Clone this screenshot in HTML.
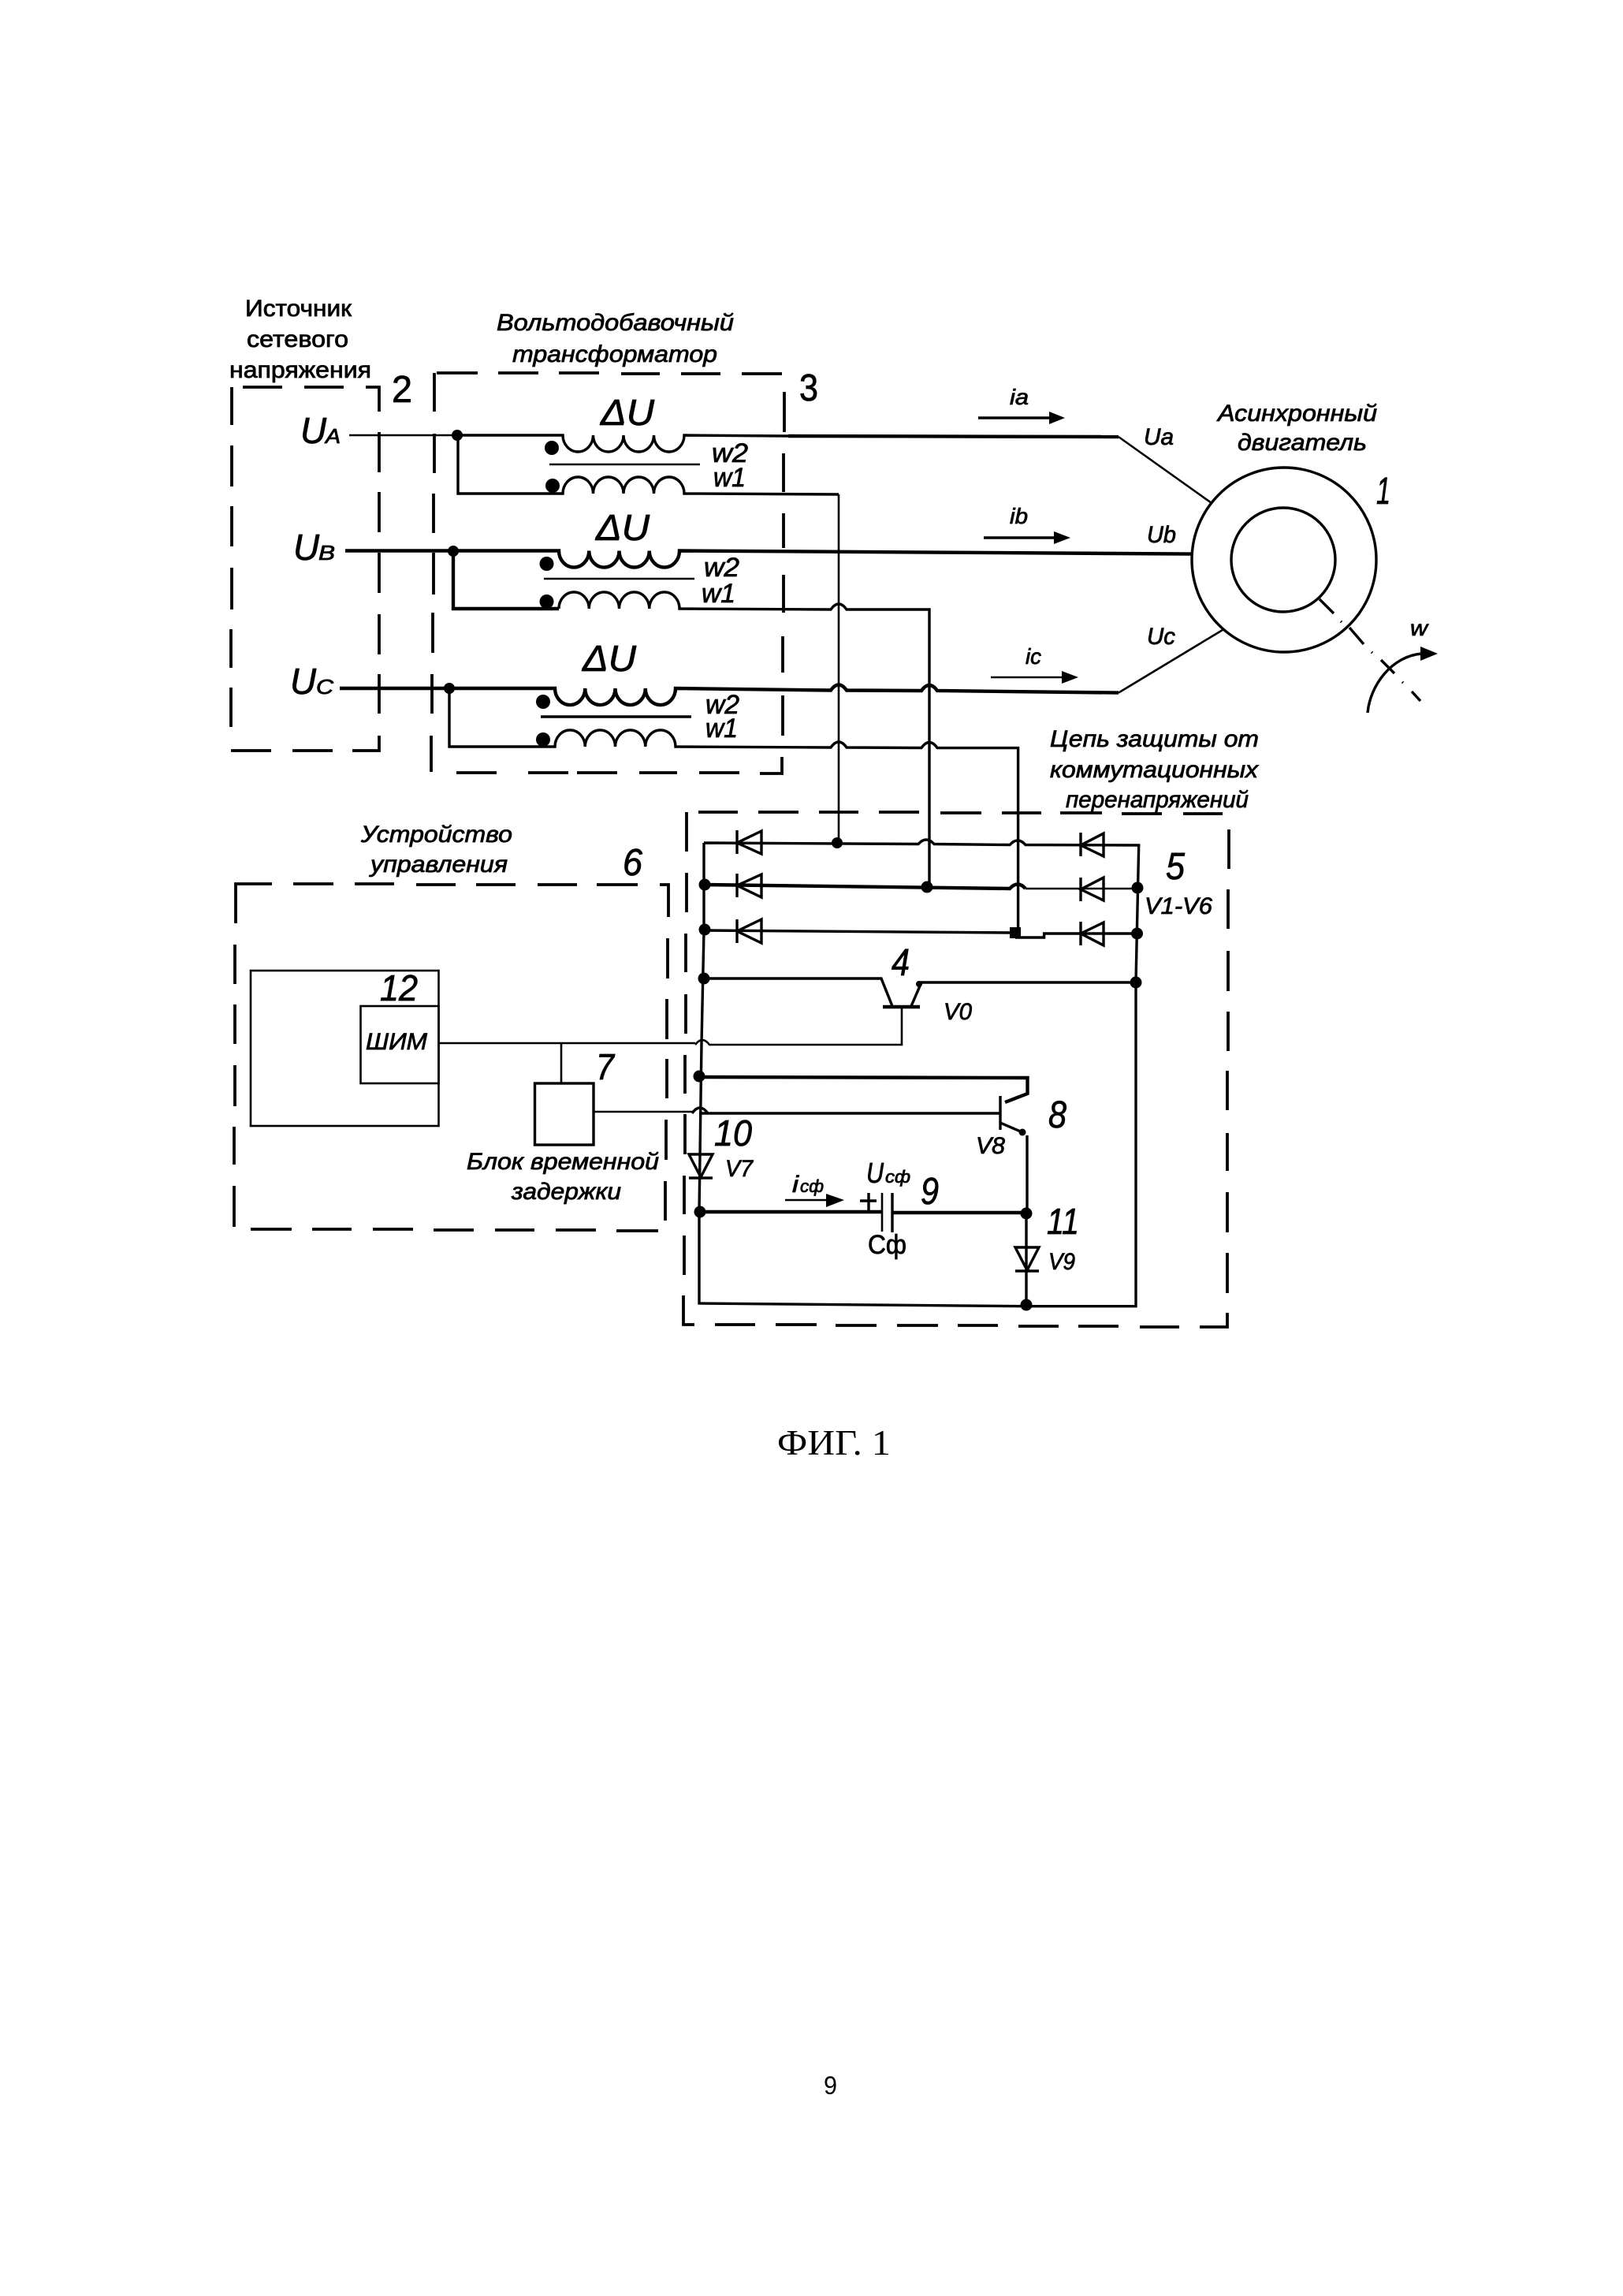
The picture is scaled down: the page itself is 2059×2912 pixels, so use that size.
<!DOCTYPE html>
<html lang="ru"><head><meta charset="utf-8"><title>ФИГ. 1</title>
<style>
html,body{margin:0;padding:0;background:#fff}
svg{display:block}
text{font-family:"Liberation Sans",sans-serif;fill:#000;stroke:#000;stroke-width:.8}
.i{font-style:italic}
.w{fill:none;stroke:#000;stroke-width:3.4;stroke-linejoin:miter;stroke-linecap:butt}
.t{fill:none;stroke:#000;stroke-width:2.6}
.b{fill:none;stroke:#000;stroke-width:4.4}
.d{fill:none;stroke:#000;stroke-width:3.8}
.dot{fill:#000}
</style></head><body>
<svg xmlns="http://www.w3.org/2000/svg" width="2059" height="2912" viewBox="0 0 2059 2912">
<rect width="2059" height="2912" fill="#fff"/>

<!-- Box 2 -->
<path class="d" d="M308 491H358M386 491H436M464 491H481V522M481 548V599M481 624V675M481 701V752M481 779V830M481 855V905M481 933V952H447M422 952H371M344 952H293M294 491V539M294 565V617M294 642V693M294 720V773M293 798V847M293 872V922"/>
<!-- Box 3 -->
<path class="d" d="M554 473H606M632 473H683M709 473H760M788 474H837M864 474H914M941 474H992M551 473V522M551 550V600M550 626V676M550 701V754M549 777V828M548 855V905M547 933V979M579 980H630M670 980H721M732 980H783M811 980H859M887 980H938M964 981H992V960M993 933V882M993 853V807M994 777V729M994 695V651M994 624V575M995 548V497"/>
<!-- Box 5 -->
<path class="d" d="M886 1030H936M962 1030H1013M1039 1030H1089M1115 1030H1166M1193 1031H1245M1271 1031H1321M1345 1031H1398M1423 1032H1474M1501 1032H1551M871 1030V1080M871 1107V1157M870 1184V1233M870 1261V1311M869 1338V1387M869 1413V1464M868 1491V1540M868 1567V1617M867 1643V1680H881M907 1680H958M984 1680H1036M1060 1681H1112M1138 1681H1190M1215 1681H1266M1292 1682H1343M1368 1682H1419M1446 1683H1496M1522 1683H1557V1665M1557 1640V1589M1557 1563V1512M1557 1485V1437M1557 1408V1358M1558 1333V1283M1558 1257V1206M1558 1178V1128M1559 1102V1052"/>
<!-- Box 6 -->
<path class="d" d="M345 1121H299V1171M372 1121H423M450 1121H500M528 1122H578M604 1122H654M682 1122H732M757 1122H809M837 1122H848V1163M847 1190V1241M846 1267V1318M846 1343V1393M845 1420V1471M844 1498V1548M298 1198V1248M298 1274V1324M298 1351V1403M297 1429V1477M297 1504V1556M318 1559H370M396 1559H446M473 1559H524M550 1560H601M628 1560H678M705 1560H756M782 1561H835"/>

<!-- Transformer A -->
<path class="t" d="M443 552H580"/>
<path class="w" d="M580 552H714a19.25 21 0 0 0 38.5 0a19.25 21 0 0 0 38.5 0a19.25 21 0 0 0 38.5 0a19.25 21 0 0 0 38.5 0L1000 553"/>
<path class="b" d="M1000 553L1419 554"/>
<path class="t" d="M1419 554L1537 638"/>
<path class="w" d="M581 552V626H714a19.25 21 0 0 1 38.5 0a19.25 21 0 0 1 38.5 0a19.25 21 0 0 1 38.5 0a19.25 21 0 0 1 38.5 0L1064 627"/>
<path class="t" d="M697 589H888"/>
<circle class="dot" cx="580" cy="552" r="7"/><circle class="dot" cx="700" cy="568" r="9"/><circle class="dot" cx="701" cy="616" r="9"/>

<!-- Transformer B -->
<path class="b" d="M438 698.5H709a19.1 21 0 0 0 38.25 0a19.1 21 0 0 0 38.25 0a19.1 21 0 0 0 38.25 0a19.1 21 0 0 0 38.25 0L1511 702.6"/>
<path class="b" d="M575 699V772H709"/>
<path class="w" d="M709 772a19.1 21 0 0 1 38.25 0a19.1 21 0 0 1 38.25 0a19.1 21 0 0 1 38.25 0a19.1 21 0 0 1 38.25 0L1054 773q10 -14 20 0L1179 773V1125"/>
<path class="t" d="M690 734H881"/>
<circle class="dot" cx="575" cy="699" r="7"/><circle class="dot" cx="693.500" cy="715" r="9"/><circle class="dot" cx="693.500" cy="763" r="9"/>

<!-- Transformer C -->
<path class="b" d="M431 873H704a19.1 21 0 0 0 38.25 0a19.1 21 0 0 0 38.25 0a19.1 21 0 0 0 38.25 0a19.1 21 0 0 0 38.25 0L1054 875.500q10 -14 20 0L1169 876q10 -14 20 0L1419 878.600"/>
<path class="t" d="M1419 878.600L1551 799"/>
<path class="w" d="M570 873V947H704a19.1 21 0 0 1 38.25 0a19.1 21 0 0 1 38.25 0a19.1 21 0 0 1 38.25 0a19.1 21 0 0 1 38.25 0L1054 948q10 -14 20 0L1169 948.500q10 -14 20 0L1291.600 948.600V1183"/>
<path class="w" d="M686 909H877"/>
<circle class="dot" cx="570" cy="873" r="7"/><circle class="dot" cx="689" cy="890" r="9"/><circle class="dot" cx="689" cy="938" r="9"/>

<!-- Motor -->
<circle class="w" cx="1629" cy="710" r="117"/>
<circle class="w" cx="1628" cy="710" r="66"/>
<path class="w" d="M1674 760L1692 778M1701 788l1 1M1712 796L1730 817M1740 827l1 1M1752 837L1769 854M1779 865l1 1M1791 877L1802 889"/>
<path class="w" d="M1735 904C1738 870 1765 832 1804 829"/>
<polygon class="dot" points="1824,829 1802,820 1802,838"/>

<!-- Current arrows -->
<path class="w" d="M1241 530H1335"/><polygon class="dot" points="1351,530 1331,522 1331,538"/>
<path class="w" d="M1248 682H1342"/><polygon class="dot" points="1358,682 1337,674 1337,690"/>
<path class="t" d="M1257 859H1352"/><polygon class="dot" points="1368,859 1347,851 1347,867"/>

<!-- Rectifier verticals -->
<path class="t" d="M1064 627V1069"/>

<!-- Rows -->
<path class="w" d="M893 1069L1165 1070.500q10 -11 20 0L1281 1071.500q10 -11 20 0L1444.700 1072L1441 1246V1656.700H1302L887 1653V1537L890 1323L893 1181V1069"/>
<path class="b" d="M893 1122L1281 1127q10 -11 20 0"/>
<path class="t" d="M1301 1127H1443"/>
<path class="w" d="M893 1180L1288 1183"/>
<path class="w" d="M1288 1189H1324.600V1184H1443"/>
<rect x="1281" y="1176" width="14" height="14" fill="#000"/>
<circle class="dot" cx="1062" cy="1069" r="7"/><circle class="dot" cx="1176" cy="1125" r="7.500"/>
<circle class="dot" cx="894" cy="1122" r="7.500"/><circle class="dot" cx="894" cy="1179" r="7.500"/><circle class="dot" cx="893" cy="1241" r="7.500"/>
<circle class="dot" cx="1443" cy="1126" r="7.500"/><circle class="dot" cx="1442.500" cy="1184" r="7.500"/><circle class="dot" cx="1441" cy="1246" r="7.500"/>

<!-- Diodes -->
<g class="w">
<path class="w" d="M935 1053V1083M966 1054L935 1069L966 1083Z"/>
<path class="w" d="M935 1108V1138M966 1109L935 1123L966 1138Z"/>
<path class="w" d="M935 1166V1196M966 1166L935 1181L966 1196Z"/>
<path class="w" d="M1371 1056V1086M1400 1057L1371 1072L1400 1086Z"/>
<path class="w" d="M1371 1113V1143M1400 1113L1371 1128L1400 1142Z"/>
<path class="w" d="M1371 1169V1199M1400 1170L1371 1184L1400 1199Z"/>
</g>
<!-- V7, V9 -->
<path class="w" d="M874 1464H904L889 1493ZM874 1494H904"/>
<path class="w" d="M1288 1582H1318L1303 1611ZM1288 1612H1318"/>

<!-- V0 -->
<path class="w" d="M893 1241H1118L1132 1276M1156 1276L1169 1246H1441"/>
<path class="b" d="M1120 1277H1167"/>
<path class="t" d="M1144 1277V1325H900q-9 -12 -18 0"/>
<circle class="dot" cx="1166" cy="1248" r="4"/>
<path class="t" d="M882 1323H557"/>

<!-- V8 -->
<path class="b" d="M887 1366L1303.500 1367V1387L1275 1398"/>
<path class="w" d="M1269 1390V1433M1269 1424L1297 1436M1303 1440V1538M887 1412H1269"/>
<circle class="dot" cx="1297" cy="1436" r="4.500"/>
<circle class="dot" cx="887" cy="1365" r="7.500"/>
<path class="w" d="M878 1412q10 -14 20 0"/>

<!-- Capacitor -->
<path class="b" d="M888 1537H1119M1132 1538H1302"/>
<path class="t" d="M1119 1513V1562"/>
<path class="w" d="M1132 1513V1563"/>
<path class="w" d="M1091 1523H1112M1102 1513V1535"/>
<path class="t" d="M996 1522H1052"/><polygon class="dot" points="1071,1522 1048,1514 1048,1531"/>
<circle class="dot" cx="888" cy="1537" r="7.500"/><circle class="dot" cx="1302" cy="1539" r="7.500"/>
<path class="w" d="M1302 1539V1655"/>
<circle class="dot" cx="1302" cy="1655" r="7.500"/>

<!-- Blocks -->
<rect class="t" x="318" y="1231" width="238.500" height="197"/>
<rect class="t" x="457.500" y="1276" width="99" height="98"/>
<path class="t" d="M712 1323V1374"/>
<rect class="w" x="678.500" y="1374" width="74.500" height="78"/>
<path class="t" d="M753 1410H880"/>

<!-- Labels, upright -->
<text x="311" y="401" font-size="30" textLength="135" lengthAdjust="spacingAndGlyphs">Источник</text>
<text x="313" y="440" font-size="30" textLength="129" lengthAdjust="spacingAndGlyphs">сетевого</text>
<text x="291" y="479" font-size="30" textLength="180" lengthAdjust="spacingAndGlyphs">напряжения</text>
<text x="497" y="510" font-size="48" textLength="26" lengthAdjust="spacingAndGlyphs">2</text>
<text x="1014" y="508" font-size="48" textLength="24" lengthAdjust="spacingAndGlyphs">3</text>
<text x="1101" y="1590" font-size="34" textLength="49" lengthAdjust="spacingAndGlyphs">Сф</text>

<!-- Labels, italic -->
<g class="i">
<text class="i" x="630" y="419" font-size="30" textLength="301" lengthAdjust="spacingAndGlyphs">Вольтодобавочный</text>
<text class="i" x="650" y="459" font-size="30" textLength="260" lengthAdjust="spacingAndGlyphs">трансформатор</text>
<text class="i" x="762" y="539" font-size="46" textLength="68" lengthAdjust="spacingAndGlyphs">ΔU</text>
<text class="i" x="756" y="685" font-size="46" textLength="68" lengthAdjust="spacingAndGlyphs">ΔU</text>
<text class="i" x="739" y="851" font-size="46" textLength="68" lengthAdjust="spacingAndGlyphs">ΔU</text>
<text class="i" x="381" y="562" font-size="46" textLength="33" lengthAdjust="spacingAndGlyphs">U</text>
<text class="i" x="413" y="562" font-size="26" textLength="19" lengthAdjust="spacingAndGlyphs">A</text>
<text class="i" x="372" y="710" font-size="46" textLength="33" lengthAdjust="spacingAndGlyphs">U</text>
<text class="i" x="404" y="710" font-size="26" textLength="21" lengthAdjust="spacingAndGlyphs">B</text>
<text class="i" x="368" y="880" font-size="46" textLength="33" lengthAdjust="spacingAndGlyphs">U</text>
<text class="i" x="401" y="880" font-size="26" textLength="22" lengthAdjust="spacingAndGlyphs">C</text>
<text class="i" x="903" y="586" font-size="34" textLength="46" lengthAdjust="spacingAndGlyphs">w2</text>
<text class="i" x="905" y="617" font-size="34" textLength="41" lengthAdjust="spacingAndGlyphs">w1</text>
<text class="i" x="893" y="731" font-size="34" textLength="45" lengthAdjust="spacingAndGlyphs">w2</text>
<text class="i" x="890" y="764" font-size="34" textLength="43" lengthAdjust="spacingAndGlyphs">w1</text>
<text class="i" x="895" y="905" font-size="34" textLength="43" lengthAdjust="spacingAndGlyphs">w2</text>
<text class="i" x="895" y="935" font-size="34" textLength="41" lengthAdjust="spacingAndGlyphs">w1</text>
<text class="i" x="1281" y="513" font-size="28" textLength="24" lengthAdjust="spacingAndGlyphs">ia</text>
<text class="i" x="1281" y="664" font-size="28" textLength="23" lengthAdjust="spacingAndGlyphs">ib</text>
<text class="i" x="1301" y="842" font-size="28" textLength="20" lengthAdjust="spacingAndGlyphs">ic</text>
<text class="i" x="1451" y="564" font-size="30" textLength="38" lengthAdjust="spacingAndGlyphs">Ua</text>
<text class="i" x="1455" y="688" font-size="30" textLength="37" lengthAdjust="spacingAndGlyphs">Ub</text>
<text class="i" x="1455" y="817" font-size="30" textLength="36" lengthAdjust="spacingAndGlyphs">Uc</text>
<text class="i" x="1545" y="534" font-size="30" textLength="202" lengthAdjust="spacingAndGlyphs">Асинхронный</text>
<text class="i" x="1570" y="571" font-size="30" textLength="164" lengthAdjust="spacingAndGlyphs">двигатель</text>
<text class="i" x="1746" y="639" font-size="48" textLength="18" lengthAdjust="spacingAndGlyphs">1</text>
<text class="i" x="1789" y="806" font-size="28" textLength="22" lengthAdjust="spacingAndGlyphs">w</text>
<text class="i" x="1332" y="947" font-size="30" textLength="265" lengthAdjust="spacingAndGlyphs">Цепь защиты от</text>
<text class="i" x="1332" y="986" font-size="30" textLength="264" lengthAdjust="spacingAndGlyphs">коммутационных</text>
<text class="i" x="1352" y="1024" font-size="30" textLength="232" lengthAdjust="spacingAndGlyphs">перенапряжений</text>
<text class="i" x="458" y="1068" font-size="30" textLength="192" lengthAdjust="spacingAndGlyphs">Устройство</text>
<text class="i" x="470" y="1106" font-size="30" textLength="174" lengthAdjust="spacingAndGlyphs">управления</text>
<text class="i" x="790" y="1110" font-size="48" textLength="25" lengthAdjust="spacingAndGlyphs">6</text>
<text class="i" x="482" y="1269" font-size="46" textLength="48" lengthAdjust="spacingAndGlyphs">12</text>
<text class="i" x="464" y="1331" font-size="30" textLength="78" lengthAdjust="spacingAndGlyphs">ШИМ</text>
<text class="i" x="756" y="1369" font-size="46" textLength="23" lengthAdjust="spacingAndGlyphs">7</text>
<text class="i" x="592" y="1483" font-size="30" textLength="244" lengthAdjust="spacingAndGlyphs">Блок временной</text>
<text class="i" x="649" y="1521" font-size="30" textLength="139" lengthAdjust="spacingAndGlyphs">задержки</text>
<text class="i" x="906" y="1453" font-size="46" textLength="48" lengthAdjust="spacingAndGlyphs">10</text>
<text class="i" x="920" y="1492" font-size="30" textLength="35" lengthAdjust="spacingAndGlyphs">V7</text>
<text class="i" x="1131" y="1237" font-size="48" textLength="23" lengthAdjust="spacingAndGlyphs">4</text>
<text class="i" x="1197" y="1293" font-size="30" textLength="36" lengthAdjust="spacingAndGlyphs">V0</text>
<text class="i" x="1479" y="1115" font-size="48" textLength="24" lengthAdjust="spacingAndGlyphs">5</text>
<text class="i" x="1452" y="1159" font-size="30" textLength="86" lengthAdjust="spacingAndGlyphs">V1-V6</text>
<text class="i" x="1330" y="1430" font-size="48" textLength="23" lengthAdjust="spacingAndGlyphs">8</text>
<text class="i" x="1238" y="1463" font-size="30" textLength="37" lengthAdjust="spacingAndGlyphs">V8</text>
<text class="i" x="1005" y="1512" font-size="30" textLength="8" lengthAdjust="spacingAndGlyphs">i</text>
<text class="i" x="1015" y="1512" font-size="22" textLength="30" lengthAdjust="spacingAndGlyphs">сф</text>
<text class="i" x="1099" y="1500" font-size="36" textLength="22" lengthAdjust="spacingAndGlyphs">U</text>
<text class="i" x="1123" y="1500" font-size="22" textLength="32" lengthAdjust="spacingAndGlyphs">сф</text>
<text class="i" x="1168" y="1527" font-size="48" textLength="23" lengthAdjust="spacingAndGlyphs">9</text>
<text class="i" x="1328" y="1565" font-size="46" textLength="41" lengthAdjust="spacingAndGlyphs">11</text>
<text class="i" x="1330" y="1610" font-size="30" textLength="34" lengthAdjust="spacingAndGlyphs">V9</text>
</g>

<text x="986" y="1845" font-size="45" textLength="144" lengthAdjust="spacingAndGlyphs" style="font-family:'Liberation Serif',serif;stroke-width:0">ФИГ. 1</text>
<text x="1045" y="2656" font-size="32" textLength="17" lengthAdjust="spacingAndGlyphs" style="stroke-width:0">9</text>
</svg>
</body></html>
